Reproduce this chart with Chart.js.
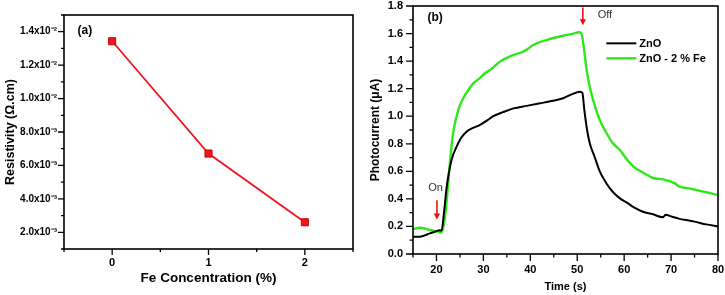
<!DOCTYPE html>
<html><head><meta charset="utf-8">
<script src="https://cdn.jsdelivr.net/npm/chart.js@4.4.1/dist/chart.umd.min.js"></script>
<style>
html,body{margin:0;padding:0;background:#fff;}
#wrap{position:relative;width:725px;height:295px;overflow:hidden;}
#ca{position:absolute;left:0;top:0;}
#cb{position:absolute;left:360px;top:0;}
</style></head><body>
<div id="wrap">
<canvas id="ca" width="360" height="295"></canvas>
<canvas id="cb" width="365" height="295"></canvas>
</div>
<script>
// ---------- Panel (a) data ----------
const feConcentration = [0, 1, 2];
const resistivity = [0.01343, 0.00671, 0.00260];
const feTicks = [0, 1, 2];
const feTickLabels = ['0', '1', '2'];
const feMinorTicks = [-0.5, 0.5, 1.5, 2.5];
const resistivityTicks = [0.002, 0.004, 0.006, 0.008, 0.010, 0.012, 0.014];
const resistivityTickLabels = ['2.0x10\u207B\u00B3', '4.0x10\u207B\u00B3', '6.0x10\u207B\u00B3', '8.0x10\u207B\u00B3', '1.0x10\u207B\u00B2', '1.2x10\u207B\u00B2', '1.4x10\u207B\u00B2'];
const resistivityMinorTicks = [0.001, 0.003, 0.005, 0.007, 0.009, 0.011, 0.013, 0.015];

// ---------- Panel (b) data ----------
const timeZnO = [15, 16.4, 17.5, 18.6, 19.7, 20.7, 21.1, 21.6, 22.2, 23.2, 24.3, 25.2, 26.4, 27.8, 29.2, 30.8, 32.1, 34.2, 36.4, 39.2, 42.1, 44.5, 47, 48.8, 50.6, 51.1, 51.5, 52.1, 52.7, 53.7, 54.8, 56.2, 57.6, 59.1, 60.5, 62, 64, 66, 68.3, 68.8, 70.2, 71.8, 73.5, 75, 77.5, 80];
const photoZnO = [0.125, 0.125, 0.135, 0.15, 0.162, 0.172, 0.17, 0.3, 0.49, 0.68, 0.78, 0.84, 0.888, 0.915, 0.936, 0.97, 1.0, 1.03, 1.057, 1.075, 1.094, 1.11, 1.13, 1.159, 1.178, 1.17, 1.05, 0.9, 0.8, 0.706, 0.6, 0.513, 0.45, 0.404, 0.375, 0.34, 0.307, 0.29, 0.266, 0.285, 0.27, 0.255, 0.245, 0.235, 0.215, 0.2];
const timeZnOFe = [15, 16.4, 17.5, 18.6, 19.6, 20.4, 21.1, 21.6, 22.2, 22.7, 23.2, 23.7, 24.3, 25, 25.7, 26.8, 27.9, 29.2, 30.3, 31.4, 33.5, 36, 38.4, 39.5, 40.6, 43.4, 47, 49, 50.4, 50.9, 51.4, 51.9, 52.4, 53, 53.9, 54.8, 56.2, 57.6, 59.1, 60.5, 62, 63.8, 65.6, 66.3, 68.3, 70.8, 71.8, 73.5, 75.4, 77.5, 80];
const photoZnOFe = [0.18, 0.19, 0.185, 0.174, 0.168, 0.162, 0.155, 0.22, 0.39, 0.6, 0.78, 0.91, 1.0, 1.08, 1.13, 1.19, 1.24, 1.275, 1.31, 1.335, 1.395, 1.44, 1.468, 1.49, 1.517, 1.553, 1.584, 1.598, 1.609, 1.6, 1.5, 1.36, 1.26, 1.166, 1.06, 0.972, 0.88, 0.803, 0.755, 0.69, 0.634, 0.595, 0.561, 0.55, 0.542, 0.513, 0.488, 0.478, 0.464, 0.448, 0.428];
const seriesNames = ['ZnO', 'ZnO - 2 % Fe'];
const timeTicks = [20, 30, 40, 50, 60, 70, 80];
const timeTickLabels = ['20', '30', '40', '50', '60', '70', '80'];
const timeMinorTicks = [15, 25, 35, 45, 55, 65, 75];
const photoTicks = [0, 0.2, 0.4, 0.6, 0.8, 1.0, 1.2, 1.4, 1.6, 1.8];
const photoTickLabels = ['0.0', '0.2', '0.4', '0.6', '0.8', '1.0', '1.2', '1.4', '1.6', '1.8'];
const photoMinorTicks = [0.1, 0.3, 0.5, 0.7, 0.9, 1.1, 1.3, 1.5, 1.7];

// annotation anchors (data coordinates)
const panelA = {label: '(a)', x: -0.36, y: 0.01405};
const panelB = {label: '(b)', x: 18.1, y: 1.713};
const onMark = {label: 'On', x: 19.8, y: 0.48, arrowX: 20.1, from: 0.39, to: 0.25};
const offMark = {label: 'Off', x: 55.9, y: 1.734, arrowX: 51.2, from: 1.79, to: 1.66};
const legendAnchor = {x: 56.2, y: 1.529};

const FONT = '"Liberation Sans", Arial, Helvetica, sans-serif';

// software-backed 2D contexts (Chart.js reuses them)
document.getElementById('ca').getContext('2d', {willReadFrequently: true});
document.getElementById('cb').getContext('2d', {willReadFrequently: true});

function drawFrame(chart, minorX, minorY, majorLen, minorLen) {
  const ctx = chart.ctx, a = chart.chartArea;
  ctx.save();
  ctx.strokeStyle = '#000';
  ctx.lineWidth = 1.6;
  ctx.strokeRect(a.left, a.top, a.right - a.left, a.bottom - a.top);
  ctx.lineWidth = 1.3;
  const xs = chart.scales.x, ys = chart.scales.y;
  ctx.beginPath();
  xs.ticks.forEach(t => { const p = xs.getPixelForValue(t.value); ctx.moveTo(p, a.bottom); ctx.lineTo(p, a.bottom + majorLen); });
  minorX.forEach(v => { const p = xs.getPixelForValue(v); ctx.moveTo(p, a.bottom); ctx.lineTo(p, a.bottom + minorLen); });
  ys.ticks.forEach(t => { const p = ys.getPixelForValue(t.value); ctx.moveTo(a.left, p); ctx.lineTo(a.left - majorLen, p); });
  minorY.forEach(v => { const p = ys.getPixelForValue(v); ctx.moveTo(a.left, p); ctx.lineTo(a.left - minorLen, p); });
  ctx.stroke();
  ctx.restore();
  ctx.getImageData(Math.round(a.left), Math.round(a.top), 1, 1);
}

const gridOff = () => ({display: false, drawTicks: false, tickLength: 0});

// ---------- Chart (a) ----------
new Chart(document.getElementById('ca'), {
  type: 'line',
  data: {
    datasets: [{
      label: 'Resistivity',
      data: feConcentration.map((x, i) => ({x: x, y: resistivity[i]})),
      borderColor: '#f0141e', backgroundColor: '#f0141e',
      borderWidth: 1.8, tension: 0,
      pointStyle: 'rect', pointRadius: 5, pointBorderColor: '#d00000', pointBorderWidth: 1
    }]
  },
  options: {
    responsive: false, animation: false, events: [],
    layout: {padding: {top: 15, right: 7, left: 0, bottom: 0}},
    plugins: {legend: {display: false}, tooltip: {enabled: false}},
    scales: {
      x: {
        type: 'linear', min: -0.5, max: 2.5,
        afterBuildTicks: s => { s.ticks = feTicks.map(v => ({value: v})); },
        afterFit: s => { s.height = 46; s.paddingLeft = 0; s.paddingRight = 0; },
        grid: gridOff(), border: {display: false},
        ticks: {callback: (v, i) => feTickLabels[i], color: '#000', font: {family: FONT, size: 11, weight: 'bold'}, padding: 7, maxRotation: 0, autoSkip: false},
        title: {display: true, text: 'Fe Concentration (%)', color: '#000', font: {family: FONT, size: 13.5, weight: 'bold'}, padding: {top: 0, bottom: 9}}
      },
      y: {
        type: 'linear', min: 0.001, max: 0.015,
        afterBuildTicks: s => { s.ticks = resistivityTicks.map(v => ({value: v})); },
        afterFit: s => { s.width = 64; s.paddingTop = 0; s.paddingBottom = 0; },
        grid: gridOff(), border: {display: false},
        ticks: {callback: (v, i) => resistivityTickLabels[i], color: '#000', font: {family: FONT, size: 10, weight: 'bold'}, padding: 7, autoSkip: false},
        title: {display: true, text: 'Resistivity (\u03A9.cm)', color: '#000', font: {family: FONT, size: 12.5, weight: 'bold'}, padding: {top: 3, bottom: 0}}
      }
    }
  },
  plugins: [{
    id: 'decorA',
    afterDraw(chart) {
      const ctx = chart.ctx, xs = chart.scales.x, ys = chart.scales.y;
      drawFrame(chart, feMinorTicks, resistivityMinorTicks, 6, 3);
      ctx.save();
      ctx.fillStyle = '#000';
      ctx.font = 'bold 12px ' + FONT;
      ctx.textBaseline = 'middle';
      ctx.fillText(panelA.label, xs.getPixelForValue(panelA.x), ys.getPixelForValue(panelA.y));
      ctx.restore();
    }
  }]
});

// ---------- Chart (b) ----------
function arrow(ctx, x, y1, y2) {
  ctx.beginPath();
  ctx.moveTo(x, y1); ctx.lineTo(x, y2 - 5);
  ctx.stroke();
  ctx.beginPath();
  ctx.moveTo(x - 3.2, y2 - 6); ctx.lineTo(x + 3.2, y2 - 6); ctx.lineTo(x, y2); ctx.closePath();
  ctx.fill();
}

new Chart(document.getElementById('cb'), {
  type: 'line',
  data: {
    datasets: [
      {label: seriesNames[0], data: timeZnO.map((x, i) => ({x: x, y: photoZnO[i]})), borderColor: '#000000', borderWidth: 2, pointRadius: 0, cubicInterpolationMode: 'monotone'},
      {label: seriesNames[1], data: timeZnOFe.map((x, i) => ({x: x, y: photoZnOFe[i]})), borderColor: '#2ee81c', borderWidth: 2.4, pointRadius: 0, cubicInterpolationMode: 'monotone'}
    ]
  },
  options: {
    responsive: false, animation: false, events: [],
    layout: {padding: {top: 6, right: 7, left: 0, bottom: 0}},
    plugins: {legend: {display: false}, tooltip: {enabled: false}},
    scales: {
      x: {
        type: 'linear', min: 15, max: 80,
        afterBuildTicks: s => { s.ticks = timeTicks.map(v => ({value: v})); },
        afterFit: s => { s.height = 41; s.paddingLeft = 0; s.paddingRight = 0; },
        grid: gridOff(), border: {display: false},
        ticks: {callback: (v, i) => timeTickLabels[i], color: '#000', font: {family: FONT, size: 11, weight: 'bold'}, padding: 9, maxRotation: 0, autoSkip: false},
        title: {display: true, text: 'Time (s)', color: '#000', font: {family: FONT, size: 11, weight: 'bold'}, padding: {top: 0, bottom: 1.5}}
      },
      y: {
        type: 'linear', min: 0, max: 1.8,
        afterBuildTicks: s => { s.ticks = photoTicks.map(v => ({value: v})); },
        afterFit: s => { s.width = 53; s.paddingTop = 0; s.paddingBottom = 0; },
        grid: gridOff(), border: {display: false},
        ticks: {callback: (v, i) => photoTickLabels[i], color: '#000', font: {family: FONT, size: 11, weight: 'bold'}, padding: 10, autoSkip: false},
        title: {display: true, text: 'Photocurrent (\u03BCA)', color: '#000', font: {family: FONT, size: 12, weight: 'bold'}, padding: {top: 8, bottom: 0}}
      }
    }
  },
  plugins: [{
    id: 'decorB',
    afterDraw(chart) {
      const ctx = chart.ctx, xs = chart.scales.x, ys = chart.scales.y;
      const X = v => xs.getPixelForValue(v), Y = v => ys.getPixelForValue(v);
      drawFrame(chart, timeMinorTicks, photoMinorTicks, 7, 3.5);
      ctx.save();
      ctx.fillStyle = '#000';
      ctx.textBaseline = 'middle';
      ctx.font = 'bold 12px ' + FONT;
      ctx.fillText(panelB.label, X(panelB.x), Y(panelB.y));
      ctx.font = '11px ' + FONT;
      ctx.fillStyle = '#333';
      ctx.textAlign = 'center';
      ctx.fillText(onMark.label, X(onMark.x), Y(onMark.y));
      ctx.fillText(offMark.label, X(offMark.x), Y(offMark.y));
      ctx.strokeStyle = '#ee1111'; ctx.fillStyle = '#ee1111'; ctx.lineWidth = 1.6;
      arrow(ctx, X(onMark.arrowX), Y(onMark.from), Y(onMark.to));
      arrow(ctx, X(offMark.arrowX), Y(offMark.from), Y(offMark.to));
      const lx = X(legendAnchor.x), ly = Y(legendAnchor.y);
      ctx.textAlign = 'left';
      ctx.font = 'bold 11px ' + FONT;
      chart.data.datasets.forEach((d, i) => {
        const yy = ly + i * 15;
        ctx.strokeStyle = d.borderColor; ctx.lineWidth = d.borderWidth;
        ctx.beginPath(); ctx.moveTo(lx, yy); ctx.lineTo(lx + 30, yy); ctx.stroke();
        ctx.fillStyle = '#000';
        ctx.fillText(d.label, lx + 33, yy + 0.5);
      });
      ctx.restore();
      ctx.getImageData(0, 0, 1, 1);
    }
  }]
});
</script>
</body></html>
